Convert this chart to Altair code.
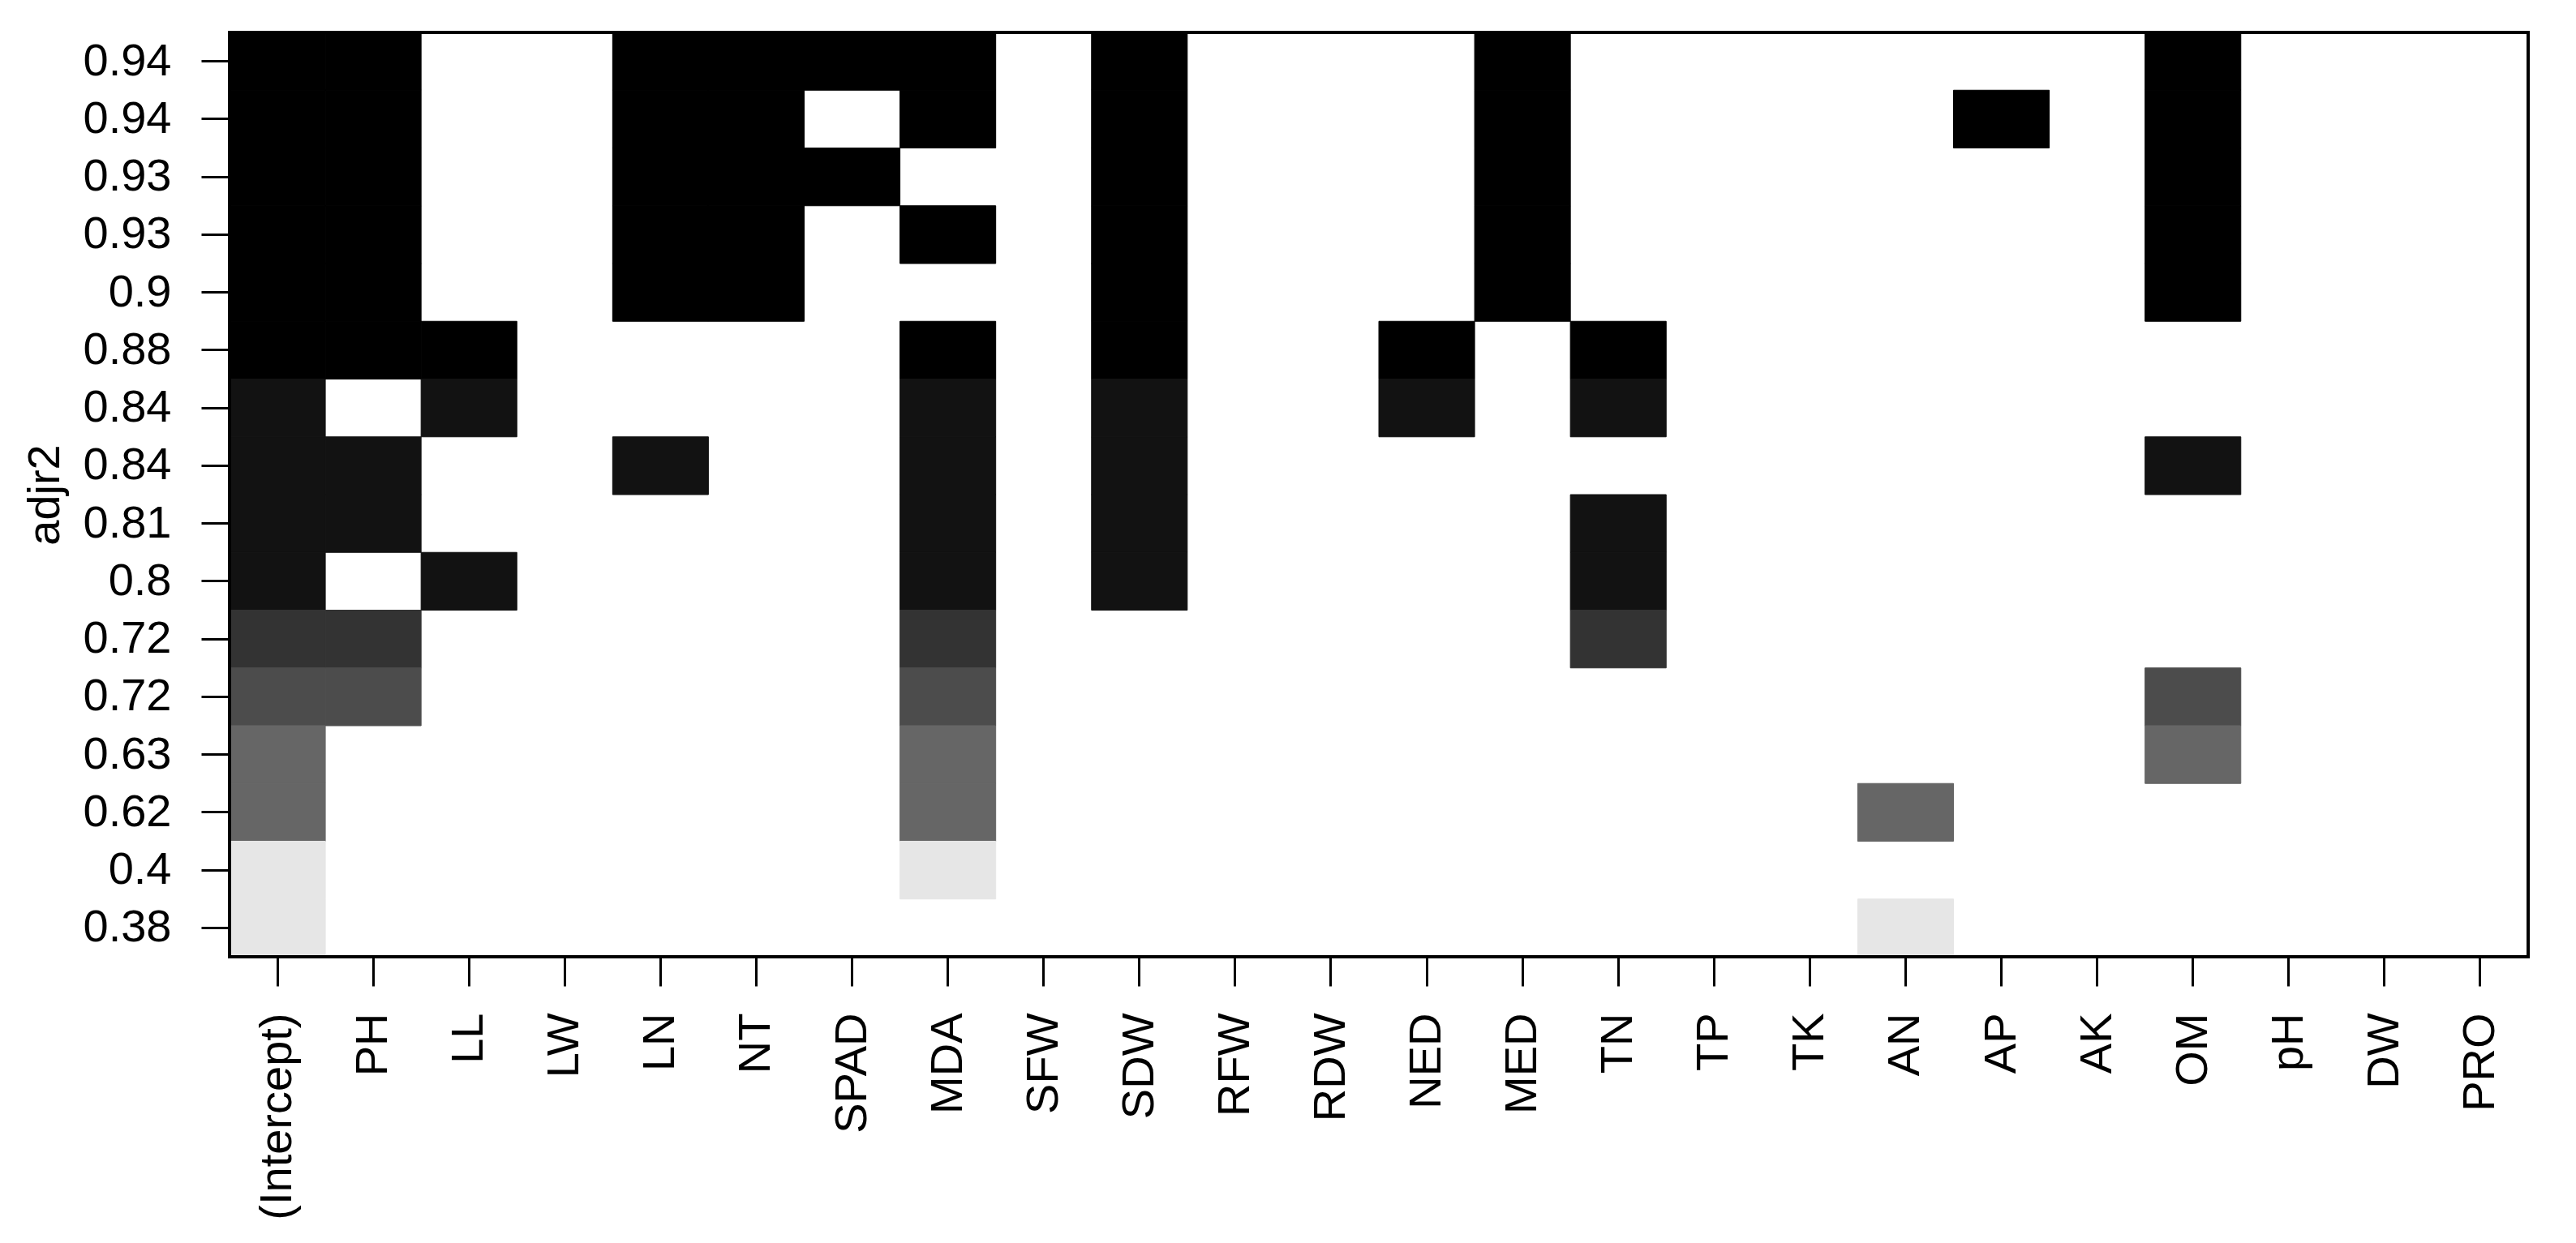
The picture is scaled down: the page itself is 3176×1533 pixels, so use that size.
import altair as alt
import pandas as pd

# ---- data (leaps regsubsets plot, scale = adjr2) ----
variables = ["(Intercept)", "PH", "LL", "LW", "LN", "NT", "SPAD", "MDA", "SFW", "SDW",
             "RFW", "RDW", "NED", "MED", "TN", "TP", "TK", "AN", "AP", "AK", "OM",
             "pH", "DW", "PRO"]

adjr2_labels = ["0.94", "0.94", "0.93", "0.93", "0.9", "0.88", "0.84", "0.84",
                "0.81", "0.8", "0.72", "0.72", "0.63", "0.62", "0.4", "0.38"]

# grey level of each model row (0 = black, 1 = white)
row_grey = [0.0, 0.0, 0.0, 0.0, 0.0, 0.0, 0.07, 0.07, 0.07, 0.07,
            0.2, 0.3, 0.4, 0.4, 0.9, 0.9]

# variables included in each model (top row to bottom row)
models = [
    ["(Intercept)", "PH", "LN", "NT", "SPAD", "MDA", "SDW", "MED", "OM"],
    ["(Intercept)", "PH", "LN", "NT", "MDA", "SDW", "MED", "AP", "OM"],
    ["(Intercept)", "PH", "LN", "NT", "SPAD", "SDW", "MED", "OM"],
    ["(Intercept)", "PH", "LN", "NT", "MDA", "SDW", "MED", "OM"],
    ["(Intercept)", "PH", "LN", "NT", "SDW", "MED", "OM"],
    ["(Intercept)", "PH", "LL", "MDA", "SDW", "NED", "TN"],
    ["(Intercept)", "LL", "MDA", "SDW", "NED", "TN"],
    ["(Intercept)", "PH", "LN", "MDA", "SDW", "OM"],
    ["(Intercept)", "PH", "MDA", "SDW", "TN"],
    ["(Intercept)", "LL", "MDA", "SDW", "TN"],
    ["(Intercept)", "PH", "MDA", "TN"],
    ["(Intercept)", "PH", "MDA", "OM"],
    ["(Intercept)", "MDA", "OM"],
    ["(Intercept)", "MDA", "AN"],
    ["(Intercept)", "MDA"],
    ["(Intercept)", "AN"],
]


def grey_hex(g):
    v = int(round(g * 255))
    return "#{0:02x}{0:02x}{0:02x}".format(v)


records = []
for i, (inc, g) in enumerate(zip(models, row_grey)):
    for v in inc:
        records.append({"row": i, "var": v, "shade": grey_hex(g)})
df = pd.DataFrame(records)

FONT = "Liberation Sans"
W, H = 2834, 1140

label_expr = "[" + ",".join("'%s'" % s for s in adjr2_labels) + "][datum.value]"

cells = alt.Chart(df).mark_rect(strokeWidth=1).encode(
    x=alt.X("var:N", sort=variables,
            scale=alt.Scale(domain=variables, paddingInner=0, paddingOuter=0),
            axis=alt.Axis(title=None, labelAngle=270, labelAlign="right",
                          labelBaseline="middle", labelPadding=33, labelLimit=0,
                          labelFontSize=56, labelFont=FONT, labelColor="black",
                          tickSize=36, tickWidth=3, tickColor="black",
                          domain=True, domainWidth=3, domainColor="black",
                          grid=False, zindex=1, labelOverlap=False)),
    y=alt.Y("row:O",
            scale=alt.Scale(domain=list(range(len(adjr2_labels))), paddingInner=0, paddingOuter=0),
            axis=alt.Axis(title="adjr2", labelExpr=label_expr, labelLimit=0,
                          labelFontSize=56, labelFont=FONT, labelColor="black",
                          labelPadding=37, labelFontWeight="normal",
                          tickSize=35, tickWidth=3, tickColor="black",
                          domain=True, domainWidth=3, domainColor="black",
                          grid=False, zindex=1, labelOverlap=False,
                          titleFont=FONT, titleFontSize=56, titleFontWeight="normal",
                          titleColor="black", titleAngle=270,
                          titleX=-211, titleY=H / 2, titleAlign="center",
                          titleBaseline="alphabetic")),
    color=alt.Color("shade:N", scale=None, legend=None),
    stroke=alt.Stroke("shade:N", scale=None, legend=None),
)

frame = alt.Chart(df).mark_rect(fill=None, stroke="black", strokeWidth=3).encode(
    x=alt.value(0), x2=alt.value(W), y=alt.value(0), y2=alt.value(H)
)

chart = alt.layer(cells, frame).properties(
    width=W, height=H,
    autosize=alt.AutoSizeParams(type="none"),
    padding={"left": 275, "top": 32, "right": 40, "bottom": 330},
).configure_view(
    stroke=None, fill="white"
).configure(background="white")

chart.save("out.html", embed_options={"renderer": "svg", "actions": False})
